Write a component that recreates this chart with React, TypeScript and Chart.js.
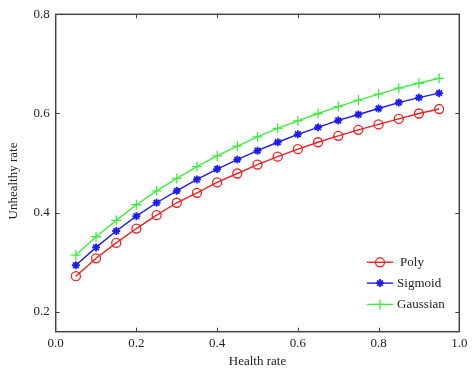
import React, { useEffect, useRef } from 'react';
import { Chart, registerables } from 'chart.js';
import { drawPoint } from 'chart.js/helpers';

Chart.register(...registerables);

const healthRate = [0.05, 0.1, 0.15, 0.2, 0.25, 0.3, 0.35, 0.4, 0.45, 0.5, 0.55, 0.6, 0.65, 0.7, 0.75, 0.8, 0.85, 0.9, 0.95];
const poly = [0.272, 0.308, 0.339, 0.368, 0.395, 0.42, 0.44, 0.461, 0.479, 0.497, 0.513, 0.528, 0.542, 0.555, 0.567, 0.578, 0.589, 0.6, 0.609];
const sigmoid = [0.294, 0.33, 0.363, 0.393, 0.42, 0.444, 0.467, 0.488, 0.507, 0.525, 0.542, 0.558, 0.572, 0.586, 0.598, 0.61, 0.622, 0.632, 0.641];
const gaussian = [0.3145, 0.3515, 0.3845, 0.416, 0.444, 0.469, 0.493, 0.5145, 0.534, 0.553, 0.57, 0.585, 0.6, 0.614, 0.627, 0.639, 0.651, 0.661, 0.671];
const seriesNames = ['Poly', 'Sigmoid', 'Gaussian'];
const xTicks = [0, 0.2, 0.4, 0.6, 0.8, 1.0];
const yTicks = [0.2, 0.4, 0.6, 0.8];
const xTitle = 'Health rate';
const yTitle = 'Unhealthy rate';

const FONT = "'Liberation Serif', 'Times New Roman', serif";
const TEXT = '#222';
const FRAME = '#444';

const framePlugin = {
  id: 'frameTicks',
  afterDraw(chart: any) {
    const { ctx, chartArea } = chart;
    const { left, right, top, bottom } = chartArea;
    const xs = chart.scales.x;
    const ys = chart.scales.y;
    const tl = 4;
    ctx.save();
    ctx.strokeStyle = FRAME;
    ctx.lineWidth = 1.5;
    ctx.strokeRect(left, top, right - left, bottom - top);
    ctx.lineWidth = 1;
    ctx.beginPath();
    xTicks.forEach((v) => {
      const px = Math.round(xs.getPixelForValue(v)) + 0.5;
      if (px <= left + 1 || px >= right - 1) return;
      ctx.moveTo(px, bottom);
      ctx.lineTo(px, bottom - tl);
      ctx.moveTo(px, top);
      ctx.lineTo(px, top + tl);
    });
    yTicks.forEach((v) => {
      const py = Math.round(ys.getPixelForValue(v)) + 0.5;
      if (py <= top + 1 || py >= bottom - 1) return;
      ctx.moveTo(left, py);
      ctx.lineTo(left + tl, py);
      ctx.moveTo(right, py);
      ctx.lineTo(right - tl, py);
    });
    ctx.stroke();

    // y axis title, rotated
    ctx.save();
    ctx.translate(14, (top + bottom) / 2 + 8);
    ctx.rotate(-Math.PI / 2);
    ctx.fillStyle = TEXT;
    ctx.font = `13px ${FONT}`;
    ctx.textAlign = 'center';
    ctx.textBaseline = 'middle';
    ctx.fillText(yTitle, 0, 0);
    ctx.restore();

    // legend inside plot, lower right
    const lx0 = xs.getPixelForValue(0.771);
    const lx1 = xs.getPixelForValue(0.836);
    const rowYs = [0.3, 0.258, 0.215].map((v) => ys.getPixelForValue(v));
    chart.data.datasets.forEach((ds: any, i: number) => {
      const y = rowYs[i];
      ctx.strokeStyle = ds.borderColor;
      ctx.lineWidth = ds.borderWidth;
      ctx.beginPath();
      ctx.moveTo(lx0, y);
      ctx.lineTo(lx1, y);
      ctx.stroke();
      ctx.strokeStyle = ds.pointBorderColor;
      ctx.fillStyle = ds.pointBackgroundColor;
      ctx.lineWidth = ds.pointBorderWidth;
      drawPoint(ctx, { pointStyle: ds.pointStyle, radius: ds.pointRadius, rotation: 0, borderWidth: ds.pointBorderWidth }, (lx0 + lx1) / 2, y);
      ctx.fillStyle = TEXT;
      ctx.font = `13px ${FONT}`;
      ctx.textAlign = 'left';
      ctx.textBaseline = 'middle';
      ctx.fillText(ds.label, lx1 + (i === 0 ? 7 : 4), y);
    });
    ctx.restore();
  },
};

export default function App() {
  const ref = useRef<HTMLCanvasElement | null>(null);
  useEffect(() => {
    document.body.style.margin = '0';
    if (!ref.current) return;
    const mk = (label: string, data: number[], color: string, style: string, r: number, bw: number) => ({
      label,
      data: data.map((y, i) => ({ x: healthRate[i], y })),
      borderColor: color,
      backgroundColor: color,
      borderWidth: 1.4,
      pointStyle: style,
      pointRadius: r,
      pointBorderColor: color,
      pointBackgroundColor: style === 'circle' ? 'rgba(255,255,255,0)' : color,
      pointBorderWidth: bw,
      tension: 0,
    });
    const chart = new Chart(ref.current, {
      type: 'line',
      data: {
        datasets: [
          mk(seriesNames[0], poly, '#ee2020', 'circle', 4.5, 1.3),
          mk(seriesNames[1], sigmoid, '#1c1cf0', 'star', 4, 1.8),
          mk(seriesNames[2], gaussian, '#40ec40', 'cross', 5, 1.3),
        ],
      },
      options: {
        animation: false,
        responsive: true,
        maintainAspectRatio: false,
        layout: { padding: { left: 0, top: 14.3, right: 14.7, bottom: 0 } },
        plugins: { legend: { display: false }, tooltip: { enabled: false } },
        scales: {
          x: {
            type: 'linear',
            min: 0,
            max: 1,
            grid: { display: false, drawTicks: false },
            border: { display: false },
            afterBuildTicks: (s: any) => { s.ticks = xTicks.map((v) => ({ value: v })); },
            afterFit: (s: any) => { s.height = 47.3; },
            ticks: {
              padding: 4,
              color: TEXT,
              font: { family: FONT, size: 13 },
              callback: (v: any) => Number(v).toFixed(1),
              maxRotation: 0,
            },
            title: { display: true, text: xTitle, color: TEXT, font: { family: FONT, size: 13 }, padding: { top: 0, bottom: 10 } },
          },
          y: {
            type: 'linear',
            min: 0.16,
            max: 0.8,
            grid: { display: false, drawTicks: false },
            border: { display: false },
            afterBuildTicks: (s: any) => { s.ticks = yTicks.map((v) => ({ value: v })); },
            afterFit: (s: any) => { s.width = 55.7; },
            ticks: {
              padding: 6,
              color: TEXT,
              font: { family: FONT, size: 13 },
              callback: (v: any) => Number(v).toFixed(1),
            },
            title: { display: false },
          },
        },
      },
      plugins: [framePlugin],
    } as any);
    return () => chart.destroy();
  }, []);
  return (
    <div style={{ width: 474, height: 379, position: 'relative', background: '#fff' }}>
      <canvas ref={ref} />
    </div>
  );
}
